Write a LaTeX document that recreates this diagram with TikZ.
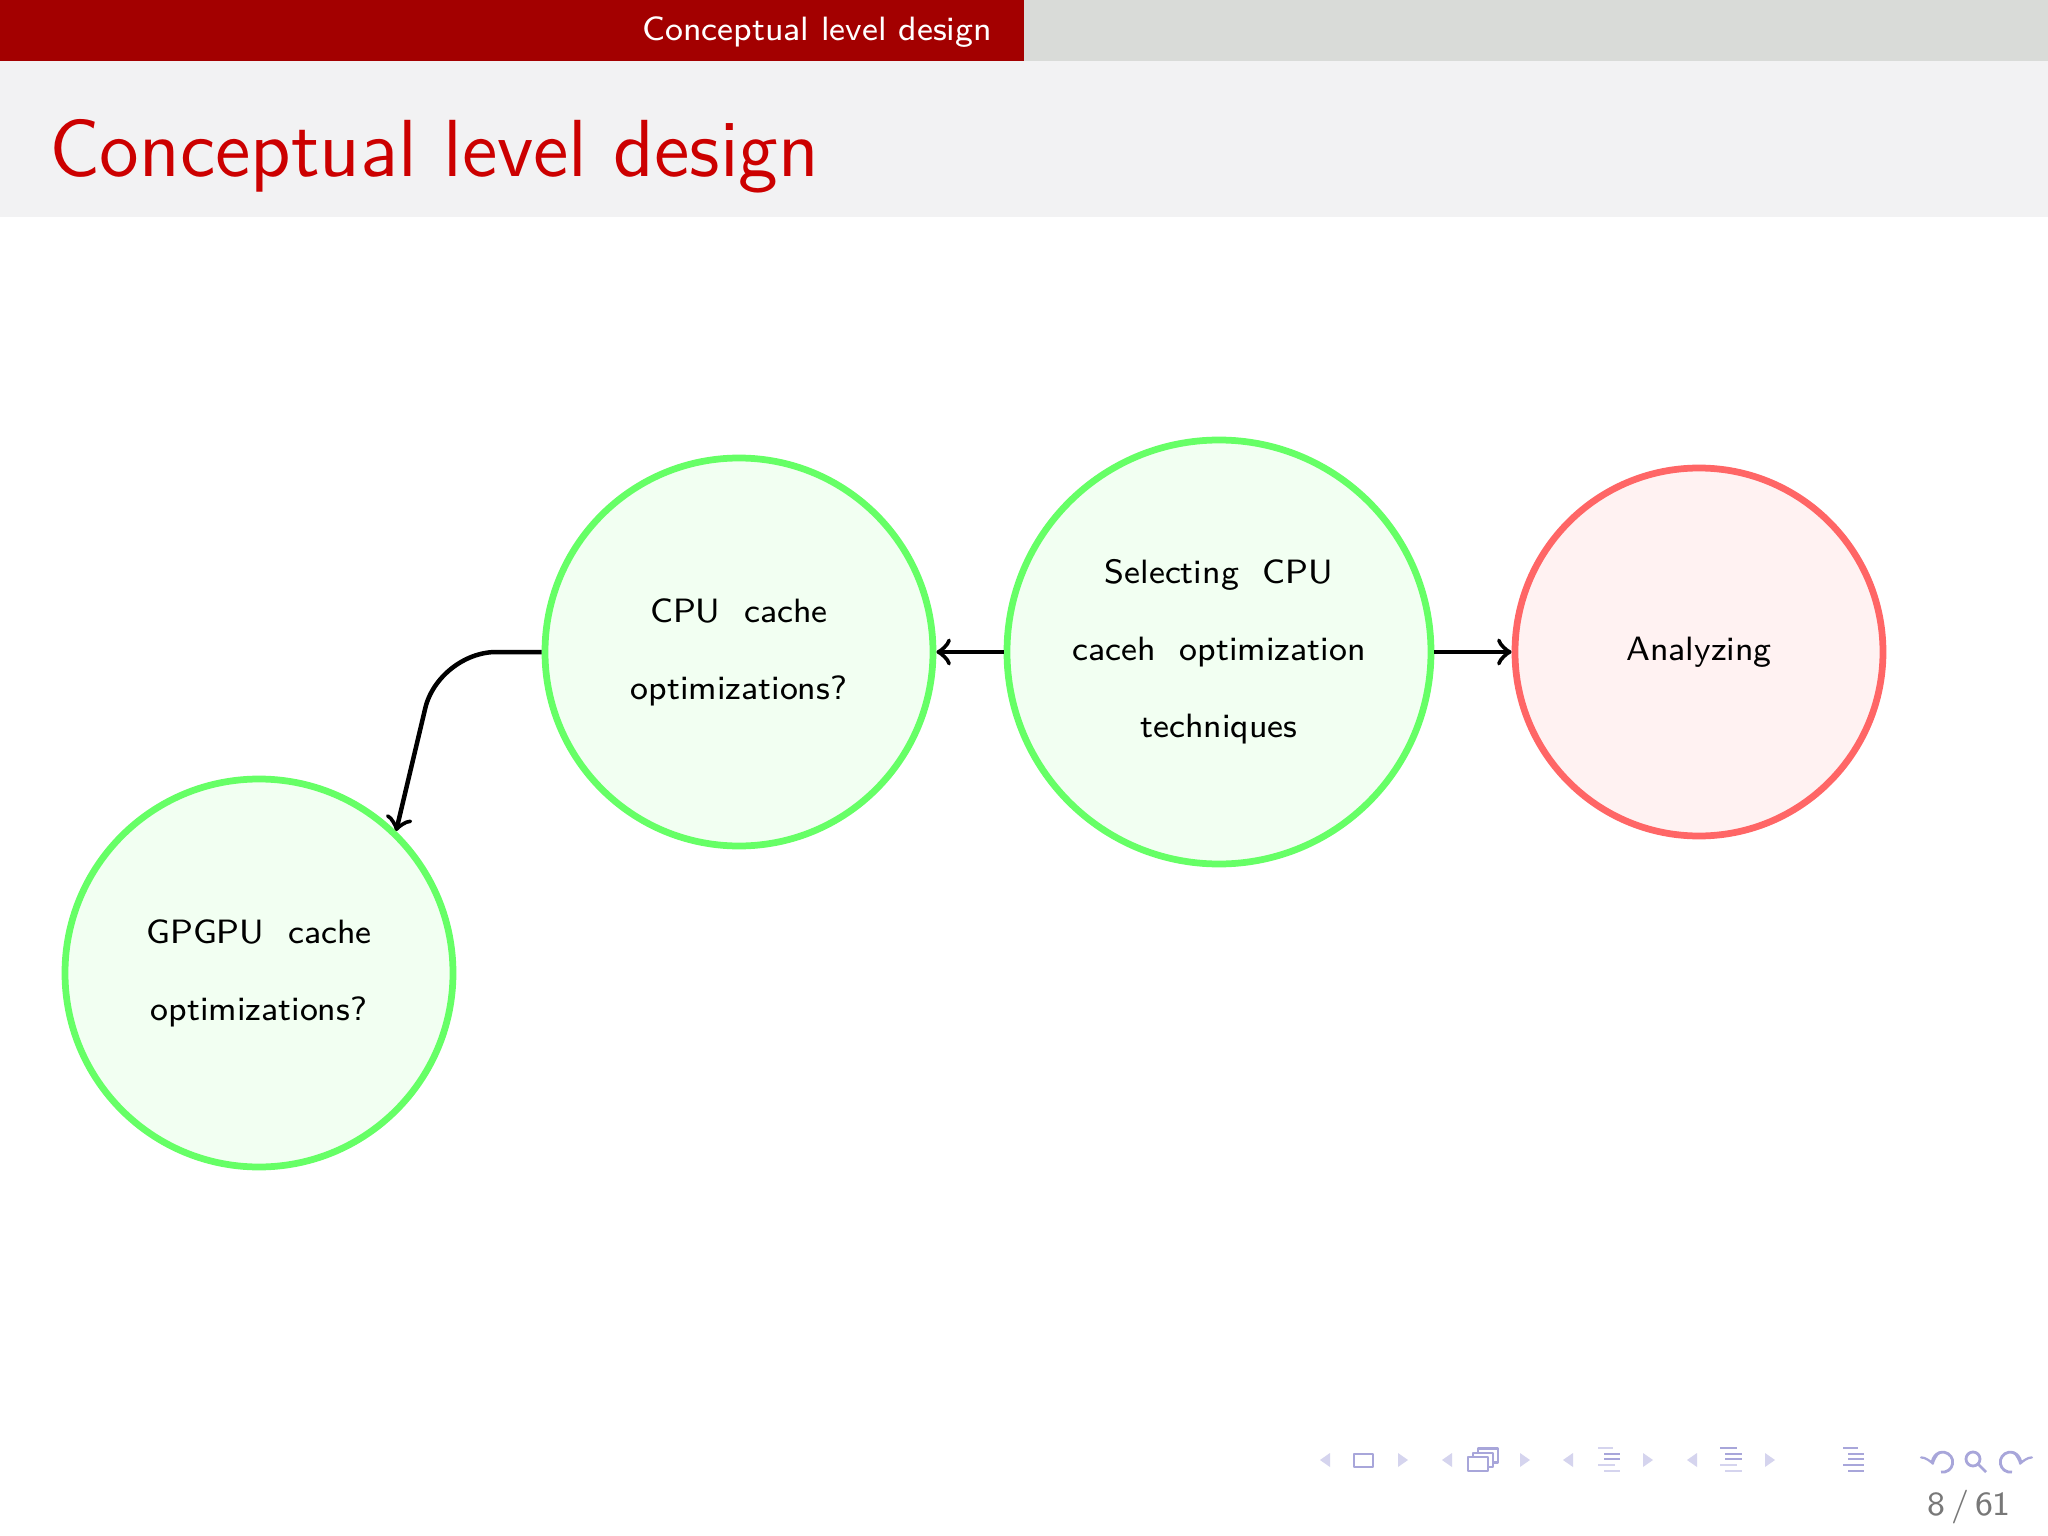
\documentclass[tikz,border=0pt]{standalone}
\usepackage{fontspec}
\renewcommand{\familydefault}{\sfdefault}
\definecolor{cabecera}{RGB}{163,0,0}
\definecolor{grisclaro}{RGB}{217,219,216}
\definecolor{banda}{RGB}{242,242,243}
\definecolor{rojotitulo}{RGB}{204,0,0}
\definecolor{nav}{RGB}{168,166,218}
\definecolor{navclaro}{RGB}{213,212,238}
\definecolor{numgris}{RGB}{120,120,120}
\begin{document}
\begin{tikzpicture}[x=0.0625mm, y=-0.0625mm, line join=round,
  bola/.style={circle, draw=green!60, fill=green!5, line width=1.2pt, align=center,
    font=\fontsize{6}{13.7}\selectfont},
  bolaroja/.style={bola, draw=red!60, fill=red!5},
  flecha/.style={->, thick},
  barra/.style={line width=0.45pt}]
  \useasboundingbox (0,0) rectangle (2048,1536);
  % la cabecera y la banda del titulo
  \fill[white] (0,0) rectangle (2048,1536);
  \fill[cabecera] (0,0) rectangle (1024,61);
  \fill[grisclaro] (1024,0) rectangle (2048,61);
  \fill[banda] (0,61) rectangle (2048,217);
  \node[anchor=base east, inner sep=0, text=white, font=\fontsize{6}{7}\selectfont]
    (cabeza) at (993,40) {Conceptual level design};
  \node[anchor=base west, inner sep=0, text=rojotitulo, font=\fontsize{14.4}{17}\selectfont]
    (titulo) at (48,176) {Conceptual level design};
  % las bolas
  \node[bola, minimum size=24.25mm] (cpu) at (739,652) {CPU~~cache\\optimizations?};
  \node[bola, minimum size=26.5mm] (sel) at (1219,652)
    {Selecting~~CPU\\caceh~~optimization\\techniques};
  \node[bolaroja, minimum size=23mm] (ana) at (1699,652) {Analyzing};
  \node[bola, minimum size=24.25mm] (gpgpu) at (259,973) {GPGPU~~cache\\optimizations?};
  % las flechas
  \draw[flecha] (sel.west) -- (cpu.east);
  \draw[flecha] (sel.east) -- (ana.west);
  \draw[flecha, rounded corners=3.6mm] (cpu.west) -- ++(-103,0) -- (gpgpu.46);
  % los simbolos de navegacion
  \foreach \x in {1325,1447,1568,1692} {
    \fill[navclaro] (\x+5,1453) -- (\x-5,1460) -- (\x+5,1467) -- cycle;
  }
  \foreach \x in {1403,1525,1648,1770} {
    \fill[navclaro] (\x-5,1453) -- (\x+5,1460) -- (\x-5,1467) -- cycle;
  }
  \draw[nav, line width=0.4pt] (1354,1454) rectangle (1373,1467);
  \foreach \d in {10,5,0} {
    \filldraw[draw=nav, fill=white, line width=0.4pt] (1468+\d,1457-0.85*\d) rectangle ++(20,14);
  }
  \foreach \y/\a/\b/\c in {1448/1598/1613/navclaro, 1454/1604/1620/nav, 1459/1604/1620/nav,
                           1465/1598/1615/navclaro, 1471/1604/1620/navclaro,
                           1448/1720/1737/nav, 1454/1725/1742/nav, 1459/1725/1742/nav,
                           1465/1720/1737/navclaro, 1471/1725/1742/navclaro,
                           1448/1843/1858/nav, 1454/1848/1864/nav, 1459/1848/1864/nav,
                           1465/1843/1864/nav, 1471/1848/1864/nav} {
    \draw[barra, \c] (\a,\y) -- (\b,\y);
  }
  \draw[nav, line width=0.5pt, ->] (1941,1472) arc[start angle=100, end angle=-195, radius=10];
  \draw[nav, line width=0.5pt] (1973,1459) circle (7) (1978,1464) -- (1986,1472);
  \draw[nav, line width=0.5pt, ->] (2012,1472) arc[start angle=80, end angle=375, radius=10];
  % el numero de pagina
  \node[anchor=base east, inner sep=0, text=numgris, font=\fontsize{6}{7}\selectfont]
    (pagina) at (2012,1515) {8\,/\,61};
\end{tikzpicture}
\end{document}
